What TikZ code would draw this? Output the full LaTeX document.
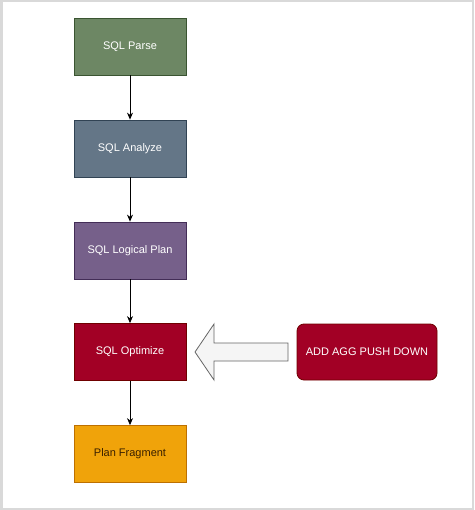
\documentclass[tikz,border=0pt]{standalone}
\usepackage{fontspec}
\setmainfont{Liberation Sans}
\usetikzlibrary{arrows.meta}
\definecolor{pfill}{HTML}{6D8764}\definecolor{pline}{HTML}{3A5431}
\definecolor{afill}{HTML}{647687}\definecolor{aline}{HTML}{314354}
\definecolor{lfill}{HTML}{76608A}\definecolor{lline}{HTML}{432D57}
\definecolor{ofill}{HTML}{A20025}\definecolor{oline}{HTML}{6F0000}
\definecolor{ffill}{HTML}{F0A30A}\definecolor{fline}{HTML}{BD7000}
\definecolor{ftext}{HTML}{3A2000}
\definecolor{bfill}{HTML}{F5F5F5}\definecolor{bline}{HTML}{666666}
\definecolor{frame}{HTML}{D9D9D9}
\begin{document}
\begin{tikzpicture}[x=1pt,y=-1pt,
  stage/.style={draw,minimum width=112pt,minimum height=57pt,inner sep=0pt,font=\fontsize{11}{13}\selectfont,text=white,line width=0.8pt},
  conn/.style={draw=black,line width=0.8pt,-{Stealth[length=7pt,width=6pt]}}]
\useasboundingbox (0,0) rectangle (474,510);
\draw[frame,line width=2.5pt,fill=white] (1.25,1.25) rectangle (472.75,508.75);
\node[stage,fill=pfill,draw=pline] (parse) at (130,46.5) {SQL Parse};
\node[stage,fill=afill,draw=aline] (analyze) at (130,148.5) {SQL Analyze};
\node[stage,fill=lfill,draw=lline] (logic) at (130,250.5) {SQL Logical Plan};
\node[stage,fill=ofill,draw=oline] (opt) at (130,352) {SQL Optimize};
\node[stage,fill=ffill,draw=fline,text=ftext] (frag) at (130,454) {Plan Fragment};
\node[stage,fill=ofill,draw=oline,rounded corners=7pt,minimum width=140pt,minimum height=56pt] (agg) at (367,352) {ADD AGG PUSH DOWN};
\draw[conn] (parse) -- (analyze);
\draw[conn] (analyze) -- (logic);
\draw[conn] (logic) -- (opt);
\draw[conn] (opt) -- (frag);
\draw[bline,fill=bfill,line width=0.8pt] (195,352) -- (214,324) -- (214,343) -- (288,343) -- (288,361) -- (214,361) -- (214,380) -- cycle;
\end{tikzpicture}
\end{document}
